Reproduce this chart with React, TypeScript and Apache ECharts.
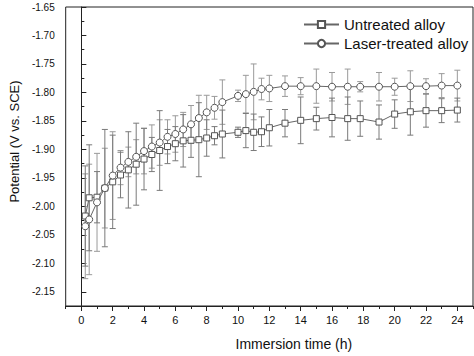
import React, { useEffect, useRef } from "react";
import * as echarts from "echarts";

const times = [0.25, 0.5, 1, 1.5, 2, 2.5, 3, 3.5, 4, 4.5, 5, 5.5, 6, 6.5, 7, 7.5, 8, 8.5, 9, 10, 10.5, 11, 11.5, 12, 13, 14, 15, 16, 17, 17.8, 19, 20, 21, 22, 23, 24];

const untreated = [-2.017, -1.985, -1.984, -1.968, -1.957, -1.945, -1.936, -1.926, -1.917, -1.909, -1.902, -1.895, -1.89, -1.885, -1.884, -1.883, -1.88, -1.876, -1.873, -1.87, -1.867, -1.87, -1.869, -1.862, -1.854, -1.849, -1.846, -1.844, -1.846, -1.846, -1.852, -1.838, -1.834, -1.832, -1.832, -1.831];
const untreatedErr = [0.088, 0.093, 0.045, 0.103, 0.082, 0.04, 0.067, 0.072, 0.054, 0.03, 0.07, 0.03, 0.03, 0.046, 0.03, 0.065, 0.032, 0.016, 0.042, 0.009, 0.03, 0.032, 0.026, 0.032, 0.024, 0.041, 0.02, 0.034, 0.038, 0.031, 0.03, 0.025, 0.041, 0.029, 0.021, 0.021];

const laser = [-2.035, -2.023, -1.993, -1.968, -1.946, -1.932, -1.922, -1.913, -1.903, -1.895, -1.888, -1.878, -1.873, -1.865, -1.856, -1.845, -1.835, -1.827, -1.817, -1.806, -1.803, -1.799, -1.794, -1.793, -1.789, -1.789, -1.789, -1.79, -1.79, -1.79, -1.79, -1.79, -1.789, -1.789, -1.788, -1.788];
const laserErr = [0.092, 0.097, 0.086, 0.07, 0.077, 0.03, 0.026, 0.03, 0.04, 0.038, 0.04, 0.03, 0.032, 0.03, 0.033, 0.04, 0.03, 0.02, 0.039, 0.01, 0.033, 0.049, 0.019, 0.023, 0.018, 0.015, 0.03, 0.025, 0.031, 0.009, 0.025, 0.015, 0.027, 0.013, 0.021, 0.027];

const xMajorTicks = [0, 2, 4, 6, 8, 10, 12, 14, 16, 18, 20, 22, 24];
const xMinorTicks = [-1, 1, 3, 5, 7, 9, 11, 13, 15, 17, 19, 21, 23, 25];
const yMajorTicks = [-2.15, -2.1, -2.05, -2.0, -1.95, -1.9, -1.85, -1.8, -1.75, -1.7, -1.65];
const yMinorTicks = [-2.175, -2.125, -2.075, -2.025, -1.975, -1.925, -1.875, -1.825, -1.775, -1.725, -1.675];

const seriesNames = ["Untreated alloy", "Laser-treated alloy"];

const FONT = "'Liberation Sans', Arial, sans-serif";

function errorSeries(values: number[], errs: number[], color: string) {
  return {
    type: "custom",
    xAxisIndex: 0,
    yAxisIndex: 0,
    silent: true,
    z: 1,
    data: times.map((t, i) => [t, values[i] - errs[i], values[i] + errs[i]]),
    encode: { x: 0, y: [1, 2] },
    renderItem: (params: any, api: any) => {
      const x = api.value(0);
      const lo = api.value(1);
      const hi = api.value(2);
      const p1 = api.coord([x, hi]);
      const p2 = api.coord([x, lo]);
      const w = 3;
      const style = { stroke: color, lineWidth: 1 };
      return {
        type: "group",
        children: [
          { type: "line", shape: { x1: p1[0], y1: p1[1], x2: p2[0], y2: p2[1] }, style },
          { type: "line", shape: { x1: p1[0] - w, y1: p1[1], x2: p1[0] + w, y2: p1[1] }, style },
          { type: "line", shape: { x1: p2[0] - w, y1: p2[1], x2: p2[0] + w, y2: p2[1] }, style },
        ],
      };
    },
  };
}

export default function App() {
  const ref = useRef<HTMLDivElement>(null);
  useEffect(() => {
    if (!ref.current) return;
    const chart = echarts.init(ref.current, null, { renderer: "svg" });
    const axisColor = "#222";
    chart.setOption({
      animation: false,
      backgroundColor: "#fff",
      textStyle: { fontFamily: FONT },
      grid: {
        left: 61,
        right: 1,
        top: 7,
        bottom: 46,
        show: true,
        borderColor: axisColor,
        borderWidth: 1,
        containLabel: false,
      },
      legend: {
        orient: "vertical",
        left: 303,
        top: 17,
        padding: 0,
        itemWidth: 35,
        itemHeight: 9,
        itemGap: 4,
        data: seriesNames,
        textStyle: { fontFamily: FONT, fontSize: 15, color: "#111", lineHeight: 15 },
      },
      xAxis: [
        {
          type: "value",
          min: -1,
          max: 25,
          position: "bottom",
          name: "Immersion time (h)",
          nameLocation: "middle",
          nameGap: 31,
          nameTextStyle: { fontFamily: FONT, fontSize: 14, color: "#111", padding: [0, 0, 0, 49] },
          axisLine: { show: true, lineStyle: { color: axisColor, width: 1 } },
          axisTick: { show: true, inside: false, length: 5, lineStyle: { color: axisColor }, customValues: xMajorTicks },
          axisLabel: { show: true, margin: 8, fontSize: 11, color: "#111", fontFamily: FONT, customValues: xMajorTicks, formatter: (v: number) => String(v) },
          splitLine: { show: false },
        },
        {
          type: "value",
          min: -1,
          max: 25,
          position: "bottom",
          axisLine: { show: false },
          axisTick: { show: true, inside: false, length: 3, lineStyle: { color: axisColor }, customValues: xMinorTicks },
          axisLabel: { show: false },
          splitLine: { show: false },
        },
      ],
      yAxis: [
        {
          type: "value",
          min: -2.175,
          max: -1.65,
          position: "left",
          name: "Potential (V vs. SCE)",
          nameLocation: "middle",
          nameGap: 42,
          nameRotate: 90,
          nameTextStyle: { fontFamily: FONT, fontSize: 13, color: "#111", padding: [0, 0, 0, 30] },
          axisLine: { show: true, lineStyle: { color: axisColor, width: 1 } },
          axisTick: { show: true, inside: true, length: 5, lineStyle: { color: axisColor }, customValues: yMajorTicks },
          axisLabel: { show: true, margin: 11, fontSize: 10, color: "#111", fontFamily: FONT, customValues: yMajorTicks, formatter: (v: number) => v.toFixed(2) },
          splitLine: { show: false },
        },
        {
          type: "value",
          min: -2.175,
          max: -1.65,
          position: "left",
          axisLine: { show: false },
          axisTick: { show: true, inside: true, length: 3, lineStyle: { color: axisColor }, customValues: yMinorTicks },
          axisLabel: { show: false },
          splitLine: { show: false },
        },
      ],
      series: [
        errorSeries(laser, laserErr, "#9a9a9a"),
        errorSeries(untreated, untreatedErr, "#7a7a7a"),
        {
          name: seriesNames[0],
          type: "line",
          xAxisIndex: 0,
          yAxisIndex: 0,
          z: 3,
          data: times.map((t, i) => [t, untreated[i]]),
          symbol: "rect",
          symbolSize: 6,
          showAllSymbol: true,
          lineStyle: { color: "#666", width: 1 },
          itemStyle: { color: "#fff", borderColor: "#555", borderWidth: 1 },
        },
        {
          name: seriesNames[1],
          type: "line",
          xAxisIndex: 0,
          yAxisIndex: 0,
          z: 4,
          data: times.map((t, i) => [t, laser[i]]),
          symbol: "circle",
          symbolSize: 7,
          showAllSymbol: true,
          lineStyle: { color: "#666", width: 1 },
          itemStyle: { color: "#fff", borderColor: "#555", borderWidth: 1 },
        },
      ],
    });
    return () => chart.dispose();
  }, []);
  return (
    <div
      ref={ref}
      style={{ position: "absolute", left: 0, top: 0, width: 474, height: 356, background: "#fff" }}
    />
  );
}
